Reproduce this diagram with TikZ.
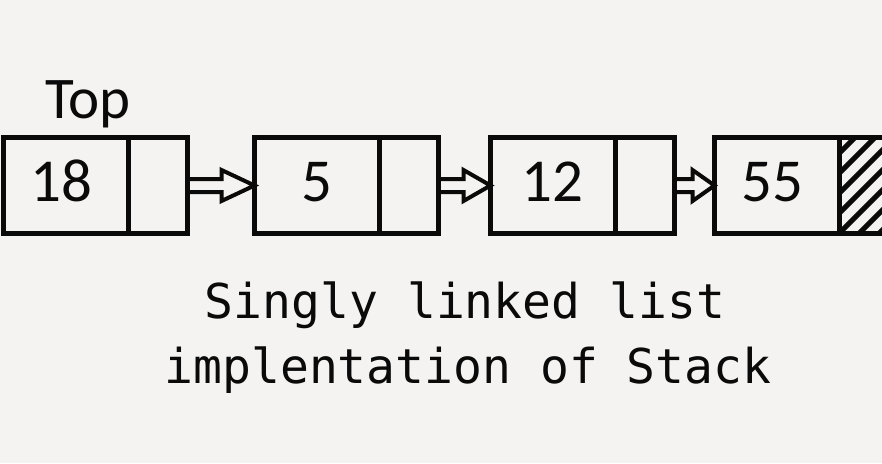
\documentclass[tikz,border=0pt]{standalone}
\usepackage{fontspec}
\setmainfont{Carlito}
\setmonofont{DejaVu Sans Mono}
\usepackage{tikz}
\definecolor{ink}{HTML}{0A0A0A}
\definecolor{paper}{HTML}{F4F3F2}
\usetikzlibrary{
  positioning,
  calc
}
\tikzset{
  x=1pt, y=1pt,
  every picture/.style={line join=miter},
  cell/.style={
    draw=ink,
    line width=5pt,
    minimum height=96pt,
    inner sep=0pt,
    outer sep=0pt,
    text height=32pt,
    text depth=0pt,
    text=ink,
    font=\fontsize{61}{64}\selectfont
  },
  datacell/.style={cell, minimum width=124.5pt},
  linkcell/.style={cell, minimum width=59.5pt},
  nullcell/.style={
    linkcell,
    path picture={
      \foreach \k in {-6,...,6}
        \draw[ink, line width=5pt]
          ($(path picture bounding box.south west)+(\k*20pt,0)$) -- ++(120pt,120pt);
    }
  },
  link/.style={draw=ink, line width=4pt},
  annot/.style={text=ink, inner sep=0pt}
}
% hollow block arrow: tail node, head node, head length
\newcommand{\linkarrow}[3]{%
  \draw[link] ($(#1.east)+(0,6.5)$) -- ($(#2.west)+(-#3,6.5)$)
    -- ($(#2.west)+(-#3,15.5)$) -- (#2.west) -- ($(#2.west)+(-#3,-15.5)$)
    -- ($(#2.west)+(-#3,-6.5)$) -- ($(#1.east)+(0,-6.5)$);
}

\begin{document}
\begin{tikzpicture}
  \clip (0,0) rectangle (882,-463);
  \fill[paper] (0,0) rectangle (882,-463);

  % Stack nodes
  \node[datacell] (d18) at (65.75,-185.5) {\hspace*{-9pt}18};
  \node[linkcell, right=0pt of d18] (p18) {};
  \node[datacell, right=67pt of p18] (d5) {5};
  \node[linkcell, right=0pt of d5] (p5) {};
  \node[datacell, right=52pt of p5] (d12) {12};
  \node[linkcell, right=0pt of d12] (p12) {};
  \node[datacell, right=40pt of p12] (d55) {\hspace*{-8pt}55};
  \node[nullcell, right=0pt of d55] (p55) {};

  % Links
  \linkarrow{p18}{d5}{33}
  \linkarrow{p5}{d12}{27}
  \linkarrow{p12}{d55}{22}

  % Labels
  \node[annot, font=\fontsize{59}{64}\selectfont, anchor=base west] (toplbl) at (45,-118) {Top};
  \node[annot, font=\ttfamily\fontsize{48}{60}\selectfont, anchor=base] (cap1) at (465,-318) {Singly linked list};
  \node[annot, font=\ttfamily\fontsize{48}{60}\selectfont, anchor=base] (cap2) at (468,-383) {implentation of Stack};
\end{tikzpicture}
\end{document}
